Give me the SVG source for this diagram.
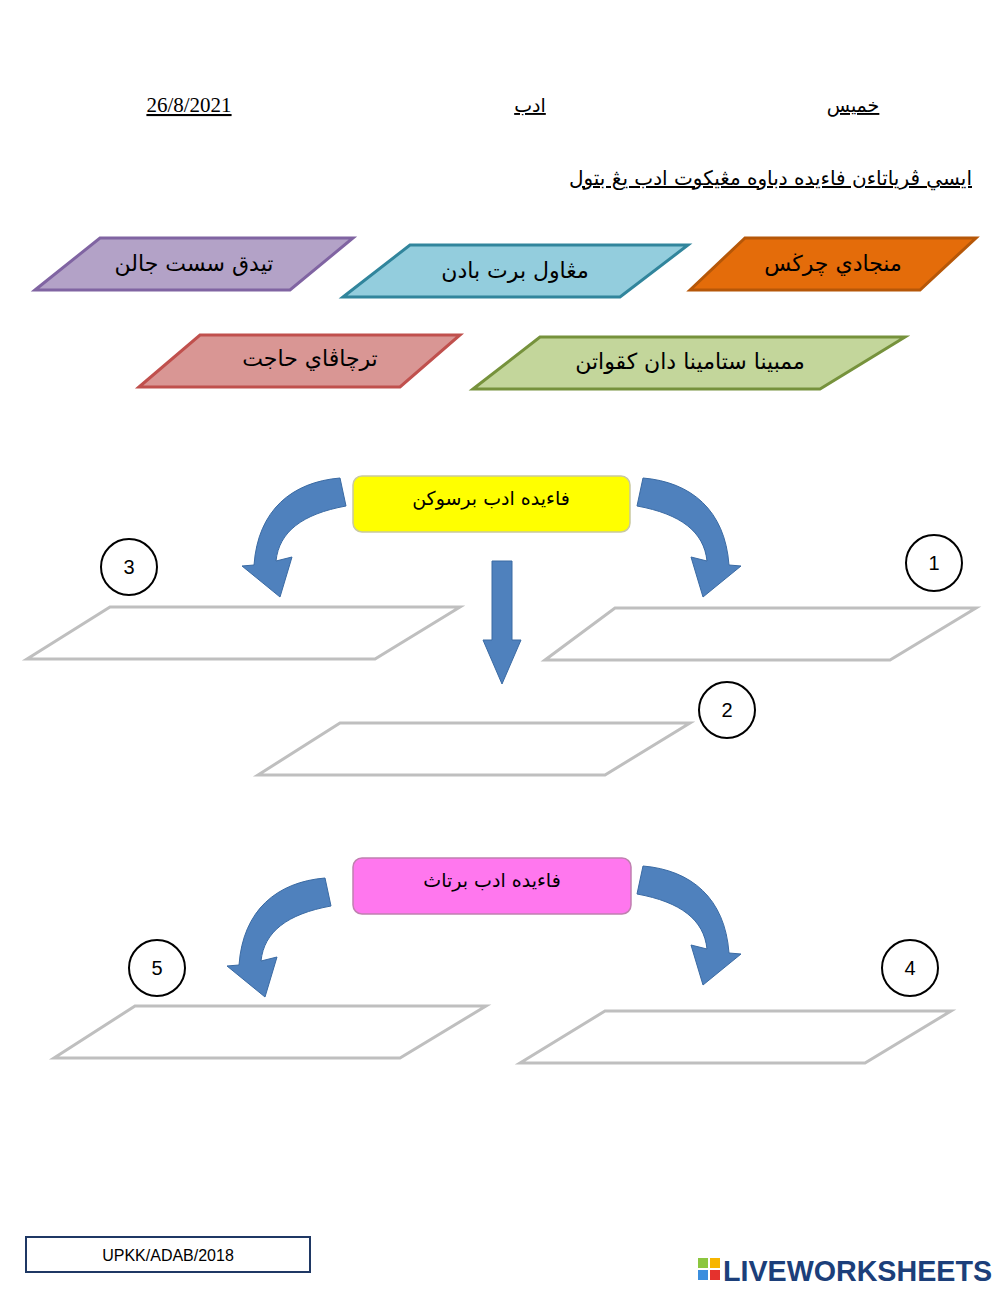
<svg xmlns="http://www.w3.org/2000/svg" width="1000" height="1291" viewBox="0 0 1000 1291">
<style>
.ar{font-family:"DejaVu Sans",sans-serif;direction:rtl;text-anchor:middle}
.blank{fill:#fff;stroke:#bfbfbf;stroke-width:3}
.circ{fill:#fff;stroke:#000;stroke-width:2}
.num{font-family:"Liberation Sans",Arial,sans-serif;font-size:20px;text-anchor:middle}
.arr{fill:#4f81bd;stroke:#3a6aa3;stroke-width:1}
</style>
<defs>
<path id="curveL" d="M340 478 C292 482 258 510 254 565 L242 566 L280 597 L292 557 L276 561 C279 532 302 514 346 506 Z"/>
</defs>
<rect width="1000" height="1291" fill="#fff"/>
<g id="header" font-size="21">
<text x="189" y="112" font-family="Liberation Serif,serif" text-anchor="middle" text-decoration="underline">26/8/2021</text>
<text x="530" y="112" class="ar" font-size="19" text-decoration="underline">ادب</text>
<text x="853" y="112" class="ar" font-size="19" text-decoration="underline">خميس</text>
<text x="972" y="185" class="ar" font-size="20" style="text-anchor:start" text-decoration="underline">ايسي ڤرياتاءن فاءيده دباوه مڠيکوت ادب يڠ بتول</text>
</g>
<g id="opt1"><polygon points="35,290 100,238 353,238 290,290" fill="#b3a2c7" stroke="#8064a2" stroke-width="3"/><text x="194" y="271" class="ar" font-size="22">تيدق سست جالن</text></g>
<g id="opt2"><polygon points="343,297 410,245 688,245 620,297" fill="#93cddd" stroke="#31859c" stroke-width="3"/><text x="515" y="278" class="ar" font-size="22">مڠاول برت بادن</text></g>
<g id="opt3"><polygon points="690,290 745,238 976,238 920,290" fill="#e46c0a" stroke="#b65708" stroke-width="3"/><text x="833" y="271" class="ar" font-size="22">منجادي چرڬس</text></g>
<g id="opt4"><polygon points="139,387 200,335 460,335 400,387" fill="#d99694" stroke="#c0504d" stroke-width="3"/><text x="310" y="366" class="ar" font-size="22">ترچاڤاي حاجت</text></g>
<g id="opt5"><polygon points="473,389 540,337 905,337 820,389" fill="#c3d69b" stroke="#76923c" stroke-width="3"/><text x="690" y="369" class="ar" font-size="22">ممبينا ستامينا دان کقواتن</text></g>
<g id="box1"><rect x="353" y="476" width="277" height="56" rx="9" fill="#ffff00" stroke="#c9c9a0" stroke-width="1.5"/><text x="491" y="505" class="ar" font-size="19">فاءيده ادب برسوکن</text></g>
<g id="box2"><rect x="353" y="858" width="278" height="56" rx="9" fill="#ff77ee" stroke="#c080b0" stroke-width="1.5"/><text x="492" y="887" class="ar" font-size="19">فاءيده ادب برتاث</text></g>
<g id="connectors">
<use href="#curveL" class="arr"/>
<use href="#curveL" class="arr" transform="translate(983,0) scale(-1,1)"/>
<path class="arr" d="M492 561 H512 V640 H521 L502 684 L483 640 H492 Z"/>
<use href="#curveL" class="arr" transform="translate(-15,400)"/>
<use href="#curveL" class="arr" transform="translate(983,388) scale(-1,1)"/>
</g>
<g id="ans1"><polygon class="blank" points="545,660 615,608 976,608 890,660"/></g>
<g id="ans3"><polygon class="blank" points="27,659 110,607 460,607 375,659"/></g>
<g id="ans2"><polygon class="blank" points="258,775 340,723 690,723 605,775"/></g>
<g id="ans4"><polygon class="blank" points="520,1063 605,1011 951,1011 865,1063"/></g>
<g id="ans5"><polygon class="blank" points="54,1058 135,1006 486,1006 400,1058"/></g>
<g id="c1"><circle class="circ" cx="934" cy="563" r="28"/><text class="num" x="934" y="570">1</text></g>
<g id="c3"><circle class="circ" cx="129" cy="567" r="28"/><text class="num" x="129" y="574">3</text></g>
<g id="c2"><circle class="circ" cx="727" cy="710" r="28"/><text class="num" x="727" y="717">2</text></g>
<g id="c4"><circle class="circ" cx="910" cy="968" r="28"/><text class="num" x="910" y="975">4</text></g>
<g id="c5"><circle class="circ" cx="157" cy="968" r="28"/><text class="num" x="157" y="975">5</text></g>
<g id="footer"><rect x="26" y="1237" width="284" height="35" fill="#fff" stroke="#1f3864" stroke-width="2"/><text x="168" y="1261" font-family="Liberation Sans,Arial,sans-serif" font-size="16" text-anchor="middle">UPKK/ADAB/2018</text></g>
<g id="logo">
<rect x="698" y="1258" width="10" height="10" fill="#8cc63f"/><rect x="710" y="1258" width="10" height="10" fill="#f7b500"/>
<rect x="698" y="1270" width="10" height="10" fill="#3b8ede"/><rect x="710" y="1270" width="10" height="10" fill="#e5322d"/>
<text x="723" y="1281" font-family="Liberation Sans,Arial,sans-serif" font-weight="bold" font-size="29" fill="#1c3f7a" textLength="269" lengthAdjust="spacingAndGlyphs">LIVEWORKSHEETS</text>
</g>
</svg>
